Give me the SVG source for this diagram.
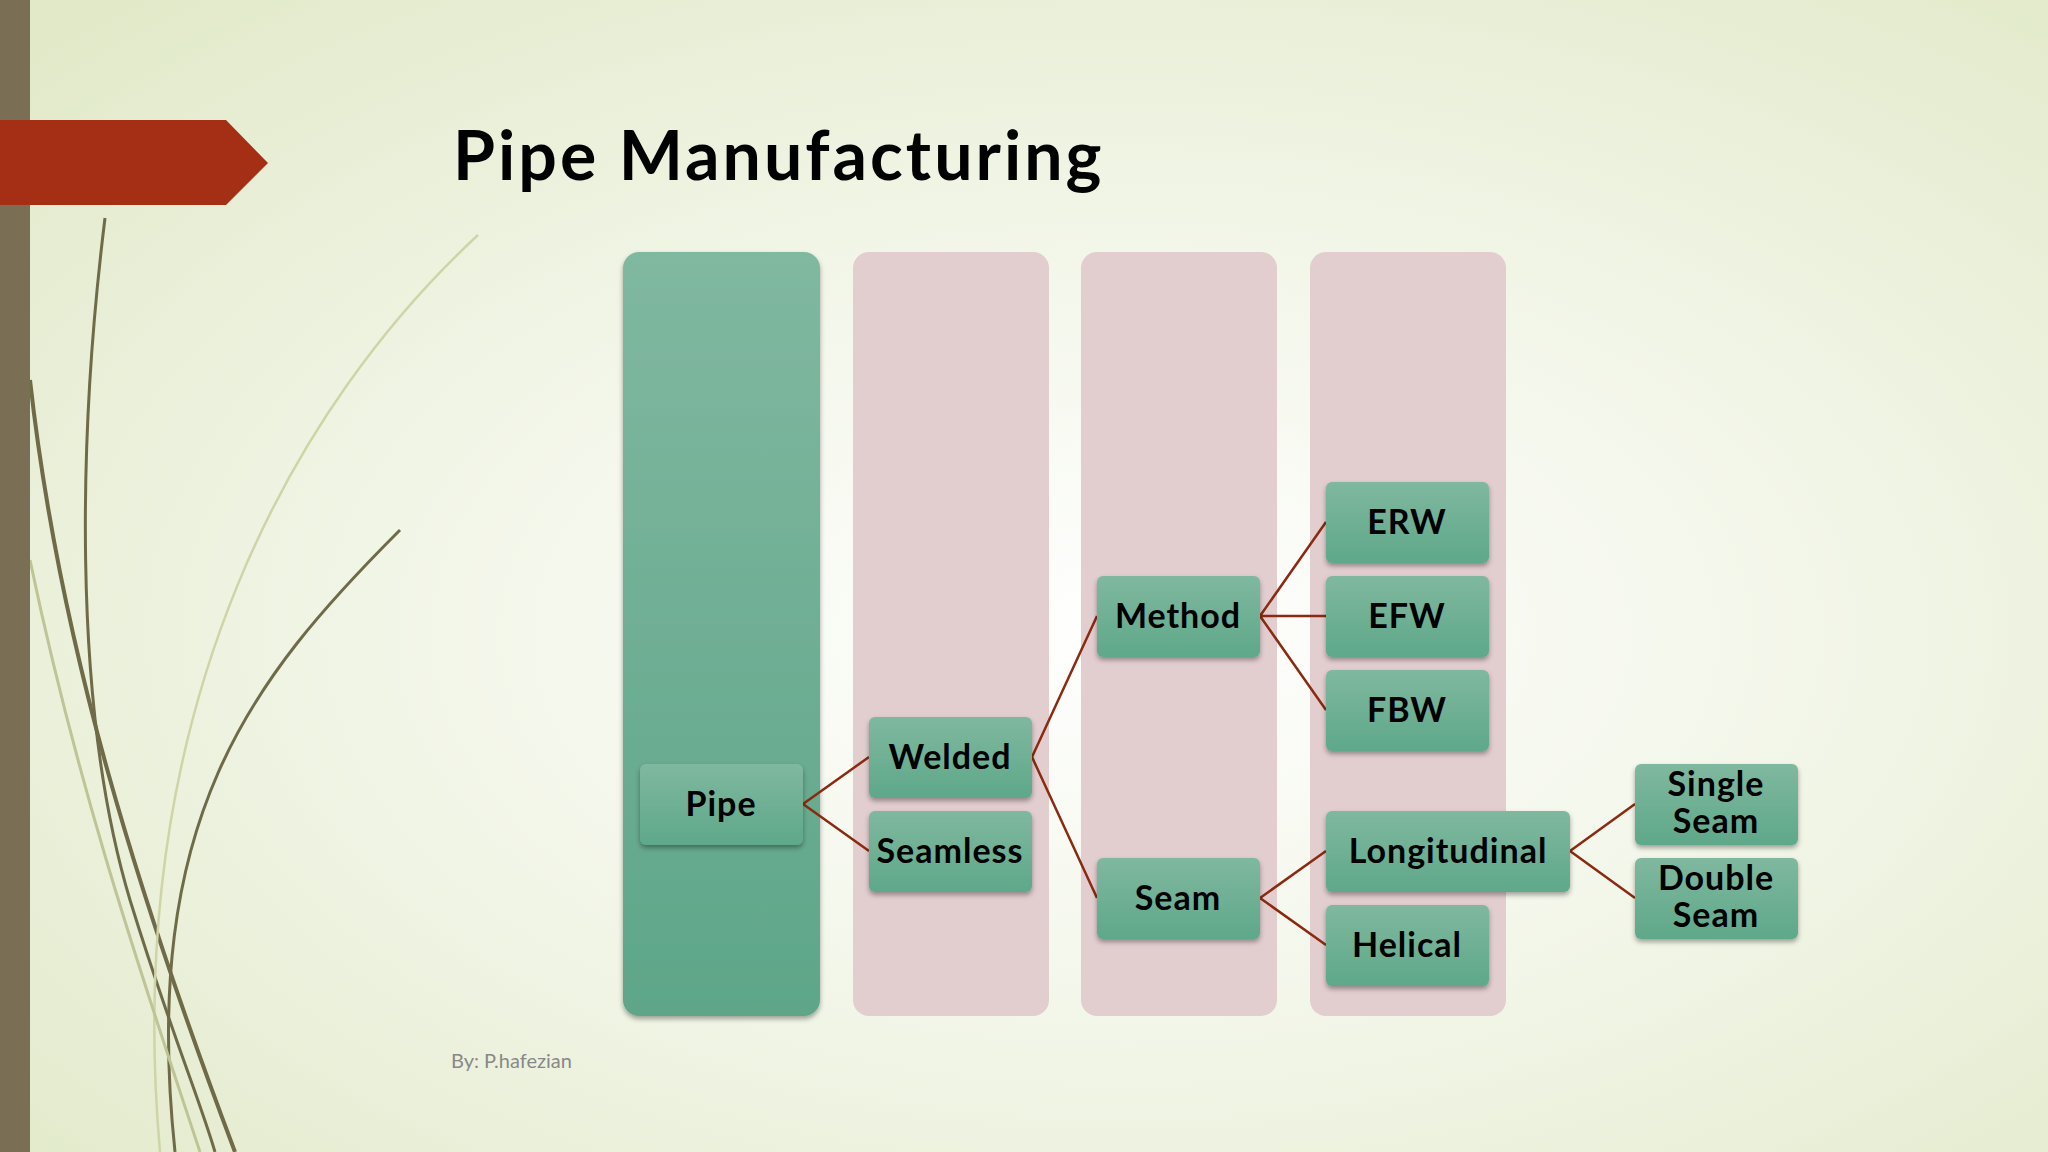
<svg xmlns="http://www.w3.org/2000/svg" width="2048" height="1152" viewBox="0 0 2048 1152">
<defs>
<radialGradient id="bg" cx="0.55" cy="0.55" r="0.75">
<stop offset="0" stop-color="#ffffff"/><stop offset="0.5" stop-color="#f1f5e6"/><stop offset="1" stop-color="#e1e9c8"/>
</radialGradient>
<linearGradient id="ng" x1="0" y1="0" x2="0" y2="1"><stop offset="0" stop-color="#7fb89f"/><stop offset="1" stop-color="#5fa88a"/></linearGradient>
<linearGradient id="cg" x1="0" y1="0" x2="0" y2="1"><stop offset="0" stop-color="#80b8a0"/><stop offset="1" stop-color="#5ea689"/></linearGradient>
<filter id="sh" x="-10%" y="-10%" width="130%" height="140%"><feDropShadow dx="0" dy="3" stdDeviation="2.5" flood-color="#000" flood-opacity="0.35"/></filter>
<style>
.col{fill:#e2cdcf}
.n rect{fill:url(#ng);filter:url(#sh)}
.n text{font-family:"Lato","Liberation Sans",sans-serif;font-weight:bold;font-size:34px;fill:#000;text-anchor:middle;letter-spacing:1px}
.c{stroke:#8b2a10;stroke-width:2.5;fill:none}
.d{fill:none;stroke:#6f6a48;stroke-width:3}
</style>
</defs>
<rect width="2048" height="1152" fill="url(#bg)"/>
<g id="deco">
<path class="d" d="M105 218 C80 420 70 700 130 900 C170 1030 200 1100 215 1152"/>
<path class="d" d="M30 380 C60 650 140 900 235 1152" style="stroke-width:4"/>
<path class="d" d="M400 530 C250 680 140 820 175 1152"/>
<path d="M478 235 C300 400 120 700 160 1152" fill="none" stroke="#cfd4a8" stroke-width="2.5"/>
<path d="M30 560 C80 800 150 1000 200 1152" fill="none" stroke="#bfc496" stroke-width="3"/>
<rect x="0" y="0" width="30" height="1152" fill="#7a6f55"/>
<polygon points="0,120 226,120 268,163 226,205 0,205" fill="#a52f14"/>
</g>
<text x="453" y="180" font-family="Lato,'Liberation Sans',sans-serif" font-weight="bold" font-size="68" letter-spacing="3" fill="#000">Pipe Manufacturing</text>
<text x="451" y="1068" font-family="Lato,'Liberation Sans',sans-serif" font-size="20" fill="#888">By: P.hafezian</text>
<g id="columns">
<rect x="623" y="252" width="197" height="764" rx="16" fill="url(#cg)" filter="url(#sh)"/>
<rect class="col" x="853" y="252" width="196" height="764" rx="16"/>
<rect class="col" x="1081" y="252" width="196" height="764" rx="16"/>
<rect class="col" x="1310" y="252" width="196" height="764" rx="16"/>
</g>
<g id="connectors">
<path class="c" d="M803 804 L869 757 M803 804 L869 851"/>
<path class="c" d="M1032 757 L1097 616 M1032 757 L1097 898"/>
<path class="c" d="M1260 616 L1326 522 M1260 616 L1326 616 M1260 616 L1326 710"/>
<path class="c" d="M1260 898 L1326 851 M1260 898 L1326 945"/>
<path class="c" d="M1570 851 L1635 804 M1570 851 L1635 898"/>
</g>
<g id="pipe" class="n"><rect x="640" y="764" width="163" height="81" rx="6"/><text x="721" y="816">Pipe</text></g>
<g id="welded" class="n"><rect x="869" y="717" width="163" height="81" rx="6"/><text x="950" y="769">Welded</text></g>
<g id="seamless" class="n"><rect x="869" y="811" width="163" height="81" rx="6"/><text x="950" y="863">Seamless</text></g>
<g id="method" class="n"><rect x="1097" y="576" width="163" height="81" rx="6"/><text x="1178" y="628">Method</text></g>
<g id="seam" class="n"><rect x="1097" y="858" width="163" height="81" rx="6"/><text x="1178" y="910">Seam</text></g>
<g id="erw" class="n"><rect x="1326" y="482" width="163" height="81" rx="6"/><text x="1407" y="534">ERW</text></g>
<g id="efw" class="n"><rect x="1326" y="576" width="163" height="81" rx="6"/><text x="1407" y="628">EFW</text></g>
<g id="fbw" class="n"><rect x="1326" y="670" width="163" height="81" rx="6"/><text x="1407" y="722">FBW</text></g>
<g id="longitudinal" class="n"><rect x="1326" y="811" width="244" height="81" rx="6"/><text x="1448" y="863">Longitudinal</text></g>
<g id="helical" class="n"><rect x="1326" y="905" width="163" height="81" rx="6"/><text x="1407" y="957">Helical</text></g>
<g id="single" class="n"><rect x="1635" y="764" width="163" height="81" rx="6"/><text x="1716" y="796">Single</text><text x="1716" y="833">Seam</text></g>
<g id="double" class="n"><rect x="1635" y="858" width="163" height="81" rx="6"/><text x="1716" y="890">Double</text><text x="1716" y="927">Seam</text></g>
</svg>
